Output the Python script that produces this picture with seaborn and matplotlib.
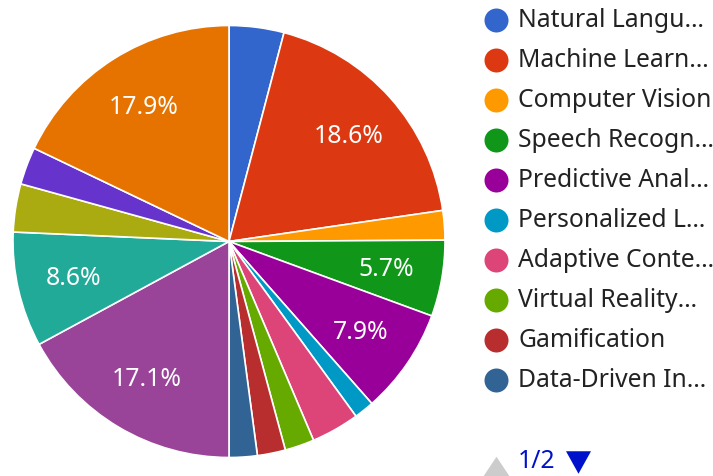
import matplotlib
matplotlib.use("Agg")
import matplotlib.pyplot as plt
import seaborn as sns

# slice data (clockwise from 12 o'clock)
categories = ["Natural Language Processing", "Machine Learning", "Computer Vision",
              "Speech Recognition", "Predictive Analytics", "Personalized Learning",
              "Adaptive Content", "Virtual Reality Simulations", "Gamification",
              "Data-Driven Insights", "Intelligent Tutoring", "Automated Assessment",
              "Chatbots", "Learning Analytics", "Content Generation"]
values = [4.1, 18.6, 2.2, 5.7, 7.9, 1.5, 3.6, 2.2, 2.1, 2.1, 17.1, 8.6, 3.6, 2.8, 17.9]
colors = ["#3366cc", "#dc3912", "#ff9900", "#109618", "#990099", "#0099c6", "#dd4477",
          "#66aa00", "#b82e2e", "#316395", "#994499", "#22aa99", "#aaaa11", "#6633cc",
          "#e67300"]
# legend page 1 of 2, labels as shown (truncated)
legend_labels = ["Natural Langu…", "Machine Learn…", "Computer Vision", "Speech Recogn…",
                 "Predictive Anal…", "Personalized L…", "Adaptive Conte…",
                 "Virtual Reality…", "Gamification", "Data-Driven In…"]

sns.set_style("white")
plt.rcParams['font.family'] = ['Noto Sans', 'DejaVu Sans']
fs = 17.8

W, H = 713, 477
fig = plt.figure(figsize=(W / 100, H / 100), dpi=100)

# pie axes, square in pixels
cx, cy, r = 229, 242.5, 216
ax = fig.add_axes([(cx - r) / W, (H - cy - r) / H, 2 * r / W, 2 * r / H])
ax.pie(values, colors=sns.color_palette(colors), startangle=90, counterclock=False,
       autopct=lambda p: f"{p:.1f}%" if p >= 5 else "", pctdistance=0.74,
       wedgeprops=dict(edgecolor="white", linewidth=1.2),
       textprops=dict(color="white", fontsize=fs))
ax.set_xlim(-1, 1)
ax.set_ylim(-1, 1)
ax.axis("off")

# legend overlay in pixel coordinates
lg = fig.add_axes([0, 0, 1, 1])
lg.set_xlim(0, W)
lg.set_ylim(H, 0)
lg.axis("off")
lg.patch.set_alpha(0)

for i, lab in enumerate(legend_labels):
    y = 20.7 + 40 * i
    lg.scatter([496], [y], s=(24 * 0.72) ** 2, color=colors[i], marker="o", linewidths=0)
    lg.text(518, y, lab, fontsize=fs, color="#222222", va="center", ha="left")

# pager
up = [(-1, -0.75), (1, -0.75), (0, 0.75)]
down = [(-1, 0.9), (1, 0.9), (0, -0.9)]
lg.scatter([496], [467], s=(26 * 0.72) ** 2, color="#cccccc", marker=up, linewidths=0)
lg.text(518, 462, "1/2", fontsize=fs, color="#0011cc", va="center", ha="left")
lg.scatter([578], [462.5], s=(25 * 0.72) ** 2, color="#0011cc", marker=down, linewidths=0)

fig.savefig("out.png", dpi=100)
